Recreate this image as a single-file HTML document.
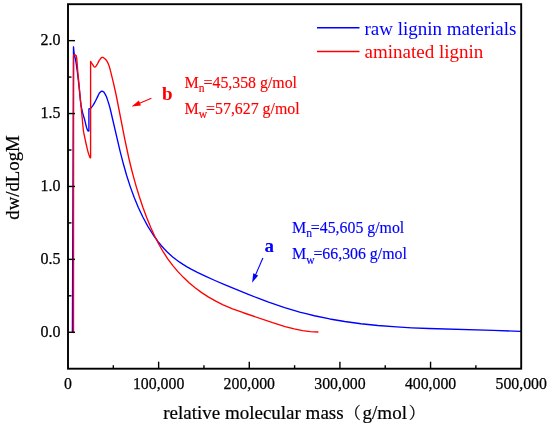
<!DOCTYPE html>
<html><head><meta charset="utf-8"><style>
html,body{margin:0;padding:0;background:#fff;}
body{width:550px;height:429px;overflow:hidden;}
svg{display:block;}
text{font-family:"Liberation Serif","Noto Serif CJK SC",serif;}
</style></head><body>
<svg width="550" height="429" viewBox="0 0 550 429">
<rect width="550" height="429" fill="#fff"/>
<g fill="none" stroke-linejoin="round" stroke-linecap="round">
<path d="M72.40,332.30 L73.50,46.80 L73.50,46.80 L74.00,52.24 L74.50,55.45 L75.00,57.46 L75.50,59.49 L76.00,62.31 L76.50,65.64 L77.00,69.26 L77.50,73.14 L78.00,77.39 L78.50,81.75 L79.00,86.26 L79.50,90.98 L80.00,96.17 L80.50,100.84 L81.00,104.70 L81.50,107.70 L82.00,110.12 L82.50,112.24 L83.00,114.12 L83.50,115.86 L84.00,117.55 L84.50,119.28 L85.00,121.15 L85.50,123.22 L86.00,125.32 L86.50,127.26 L87.00,128.88 L87.50,130.05 L88.00,130.90 L88.90,131.00 L88.90,108.80 L90.50,108.50 L90.75,108.23 L91.00,107.95 L91.25,107.65 L91.50,107.35 L91.75,107.03 L92.00,106.70 L92.25,106.37 L92.50,106.02 L92.75,105.67 L93.00,105.31 L93.25,104.93 L93.50,104.54 L93.75,104.14 L94.00,103.72 L94.25,103.30 L94.50,102.86 L94.75,102.42 L95.00,101.97 L95.25,101.51 L95.50,101.03 L95.75,100.53 L96.00,100.02 L96.25,99.49 L96.50,98.97 L96.75,98.44 L97.00,97.91 L97.25,97.40 L97.50,96.90 L97.75,96.39 L98.00,95.86 L98.25,95.32 L98.50,94.78 L98.75,94.26 L99.00,93.78 L99.25,93.34 L99.50,92.96 L99.75,92.65 L100.00,92.40 L100.25,92.16 L100.50,91.93 L100.75,91.72 L101.00,91.54 L101.25,91.38 L101.50,91.27 L101.75,91.21 L102.00,91.20 L102.25,91.24 L102.50,91.32 L102.75,91.42 L103.00,91.56 L103.25,91.71 L103.50,91.88 L103.75,92.06 L104.00,92.29 L104.25,92.61 L104.50,93.02 L104.75,93.47 L105.00,93.94 L105.25,94.41 L105.50,94.86 L105.75,95.32 L106.00,95.81 L106.25,96.33 L106.50,96.90 L106.75,97.55 L107.00,98.29 L107.25,99.08 L107.50,99.88 L107.75,100.65 L108.00,101.41 L108.25,102.16 L108.50,102.93 L108.75,103.71 L109.00,104.53 L109.25,105.37 L109.50,106.24 L109.75,107.12 L110.00,108.03 L110.10,108.40 L110.24,108.97 L120.06,151.10 L123.40,164.06 L126.59,175.23 L130.32,186.86 L134.31,197.80 L138.34,207.51 L142.84,217.04 L147.86,226.31 L153.13,234.75 L158.26,241.86 L161.19,245.48 L163.89,248.53 L166.71,251.46 L169.65,254.26 L172.71,256.92 L176.34,259.80 L179.64,262.18 L183.03,264.43 L187.01,266.85 L191.09,269.13 L197.35,272.36 L204.76,275.89 L214.37,280.24 L224.55,284.65 L248.34,294.42 L258.70,298.44 L268.58,302.08 L284.62,307.54 L299.71,312.04 L307.03,313.97 L314.39,315.75 L329.78,318.96 L344.71,321.51 L360.91,323.71 L377.79,325.48 L396.50,326.93 L411.76,327.80 L428.79,328.52 L493.26,330.30 L520.50,331.40" stroke="#0000ff" stroke-width="1.35"/>
<path d="M73.50,332.60 L73.60,56.00 Q73.70,54.30 74.60,54.40 L76.30,55.80 L76.30,55.80 L76.80,59.09 L77.30,65.58 L77.80,72.22 L78.30,77.04 L78.80,82.15 L79.30,87.76 L79.80,93.37 L80.30,98.93 L80.80,104.08 L81.30,109.00 L81.80,113.95 L82.30,118.96 L82.80,124.76 L83.30,130.00 L83.80,132.95 L84.30,135.25 L84.80,137.69 L85.30,140.13 L85.80,142.49 L86.30,144.74 L86.80,146.95 L87.30,149.09 L87.80,151.08 L88.30,152.83 L88.80,154.40 L89.30,155.84 L89.80,157.12 L90.10,157.80 L90.60,157.80 L90.60,61.40 L90.85,61.80 L91.10,62.19 L91.35,62.58 L91.60,62.95 L91.85,63.33 L92.10,63.69 L92.35,64.05 L92.60,64.40 L92.85,64.77 L93.10,65.19 L93.35,65.62 L93.60,66.03 L93.85,66.41 L94.10,66.73 L94.35,66.97 L94.60,67.09 L94.85,67.08 L95.10,66.98 L95.35,66.80 L95.60,66.56 L95.85,66.26 L96.10,65.92 L96.35,65.55 L96.60,65.17 L96.85,64.78 L97.10,64.39 L97.35,64.03 L97.60,63.63 L97.85,63.17 L98.10,62.68 L98.35,62.16 L98.60,61.65 L98.85,61.15 L99.10,60.68 L99.35,60.26 L99.60,59.90 L99.85,59.58 L100.10,59.24 L100.35,58.91 L100.60,58.59 L100.85,58.29 L101.10,58.01 L101.35,57.76 L101.60,57.56 L101.85,57.41 L102.10,57.32 L102.35,57.30 L102.60,57.33 L102.85,57.40 L103.10,57.50 L103.35,57.63 L103.60,57.78 L103.85,57.95 L104.10,58.12 L104.35,58.30 L104.60,58.47 L104.85,58.67 L105.10,58.90 L105.35,59.15 L105.60,59.43 L105.85,59.72 L106.10,60.02 L106.35,60.36 L106.60,60.71 L106.85,61.10 L107.10,61.51 L107.35,61.95 L107.60,62.41 L107.85,62.90 L108.10,63.43 L108.35,64.01 L108.60,64.63 L108.85,65.30 L109.10,66.00 L109.35,66.76 L109.60,67.58 L109.85,68.46 L110.10,69.40 L110.35,70.39 L110.50,71.00 L110.61,71.40 L113.38,82.56 L116.14,95.00 L124.82,139.42 L128.68,157.50 L131.07,167.48 L133.65,177.40 L136.32,186.87 L139.21,196.27 L142.87,207.17 L146.86,217.97 L150.76,227.50 L154.85,236.48 L158.96,244.52 L163.27,251.98 L167.75,258.83 L172.64,265.42 L177.68,271.39 L183.35,277.36 L189.07,282.71 L195.41,287.98 L202.06,292.86 L208.62,297.11 L215.77,301.16 L223.12,304.77 L232.55,308.76 L243.33,312.74 L272.55,322.62 L285.08,326.54 L294.19,328.93 L302.64,330.62 L310.40,331.61 L317.90,332.00" stroke="#ff0000" stroke-width="1.35"/>
</g>
<g stroke="#000" stroke-width="1.4" fill="none">
<line x1="113.32" y1="368.70" x2="113.32" y2="365.20"/>
<line x1="158.64" y1="368.70" x2="158.64" y2="361.70"/>
<line x1="203.96" y1="368.70" x2="203.96" y2="365.20"/>
<line x1="249.28" y1="368.70" x2="249.28" y2="361.70"/>
<line x1="294.60" y1="368.70" x2="294.60" y2="365.20"/>
<line x1="339.92" y1="368.70" x2="339.92" y2="361.70"/>
<line x1="385.24" y1="368.70" x2="385.24" y2="365.20"/>
<line x1="430.56" y1="368.70" x2="430.56" y2="361.70"/>
<line x1="475.88" y1="368.70" x2="475.88" y2="365.20"/>
<line x1="68.00" y1="332.25" x2="75.00" y2="332.25"/>
<line x1="68.00" y1="295.80" x2="71.50" y2="295.80"/>
<line x1="68.00" y1="259.35" x2="75.00" y2="259.35"/>
<line x1="68.00" y1="222.90" x2="71.50" y2="222.90"/>
<line x1="68.00" y1="186.45" x2="75.00" y2="186.45"/>
<line x1="68.00" y1="150.00" x2="71.50" y2="150.00"/>
<line x1="68.00" y1="113.55" x2="75.00" y2="113.55"/>
<line x1="68.00" y1="77.10" x2="71.50" y2="77.10"/>
<line x1="68.00" y1="40.65" x2="75.00" y2="40.65"/>
</g>
<rect x="68.00" y="4.20" width="453.20" height="364.50" fill="none" stroke="#000" stroke-width="1.9"/>
<g font-size="16" fill="#000" stroke="#000" stroke-width="0.25">
<text x="60.5" y="336.95" text-anchor="end">0.0</text>
<text x="60.5" y="264.05" text-anchor="end">0.5</text>
<text x="60.5" y="191.15" text-anchor="end">1.0</text>
<text x="60.5" y="118.25" text-anchor="end">1.5</text>
<text x="60.5" y="45.35" text-anchor="end">2.0</text>
<text x="68.00" y="388.5" text-anchor="middle" font-size="15.8">0</text>
<text x="158.64" y="388.5" text-anchor="middle" font-size="15.8">100,000</text>
<text x="249.28" y="388.5" text-anchor="middle" font-size="15.8">200,000</text>
<text x="339.92" y="388.5" text-anchor="middle" font-size="15.8">300,000</text>
<text x="430.56" y="388.5" text-anchor="middle" font-size="15.8">400,000</text>
<text x="521.20" y="388.5" text-anchor="middle" font-size="15.8">500,000</text>
</g>
<text transform="translate(19.1,177.5) rotate(-90)" text-anchor="middle" font-size="18.8" fill="#000" stroke="#000" stroke-width="0.2">dw/dLogM</text>
<text y="419" font-size="19" fill="#000" stroke="#000" stroke-width="0.2"><tspan x="163.2">relative molecular mass</tspan><tspan x="344.5" y="417.8" font-size="16.3">（</tspan><tspan x="362.6" y="419">g/mol</tspan><tspan x="408.8" y="417.8" font-size="16.3">）</tspan></text>
<line x1="317" y1="27.7" x2="359.5" y2="27.7" stroke="#0000ff" stroke-width="1.5"/>
<line x1="317" y1="51.4" x2="359.5" y2="51.4" stroke="#ff0000" stroke-width="1.5"/>
<text x="364.5" y="34.6" font-size="19" fill="#0000ff">raw lignin materials</text>
<text x="364.5" y="57.6" font-size="19" fill="#ff0000">aminated lignin</text>
<text x="162" y="100.2" font-size="19" font-weight="bold" fill="#ff0000">b</text>
<text x="264.5" y="251.7" font-size="19" font-weight="bold" fill="#0000ff">a</text>
<line x1="151.40" y1="98.30" x2="138.99" y2="103.44" stroke="#ff0000" stroke-width="1.15"/><polygon points="131.60,106.50 138.88,100.56 140.95,105.55" fill="#ff0000"/>
<line x1="262.90" y1="258.10" x2="255.32" y2="275.37" stroke="#0000ff" stroke-width="1.15"/><polygon points="252.10,282.70 253.25,273.37 258.19,275.54" fill="#0000ff"/>
<g font-size="16" fill="#ff0000" stroke="#ff0000" stroke-width="0.15">
<text x="184.6" y="88">M<tspan font-size="11.6" dy="4.3">n</tspan><tspan dy="-4.3" dx="-1.1" font-size="15.85">=45,358 g/mol</tspan></text>
<text x="184.6" y="114.3">M<tspan font-size="11.6" dy="4.1">w</tspan><tspan dy="-4.1" dx="-1.1" font-size="15.85">=57,627 g/mol</tspan></text>
</g>
<g font-size="16" fill="#0000ff" stroke="#0000ff" stroke-width="0.15">
<text x="291.9" y="233">M<tspan font-size="11.6" dy="4.3">n</tspan><tspan dy="-4.3" dx="-1.1" font-size="15.85">=45,605 g/mol</tspan></text>
<text x="291.9" y="259.4">M<tspan font-size="11.6" dy="4.1">w</tspan><tspan dy="-4.1" dx="-1.1" font-size="15.85">=66,306 g/mol</tspan></text>
</g>
</svg>
</body></html>
